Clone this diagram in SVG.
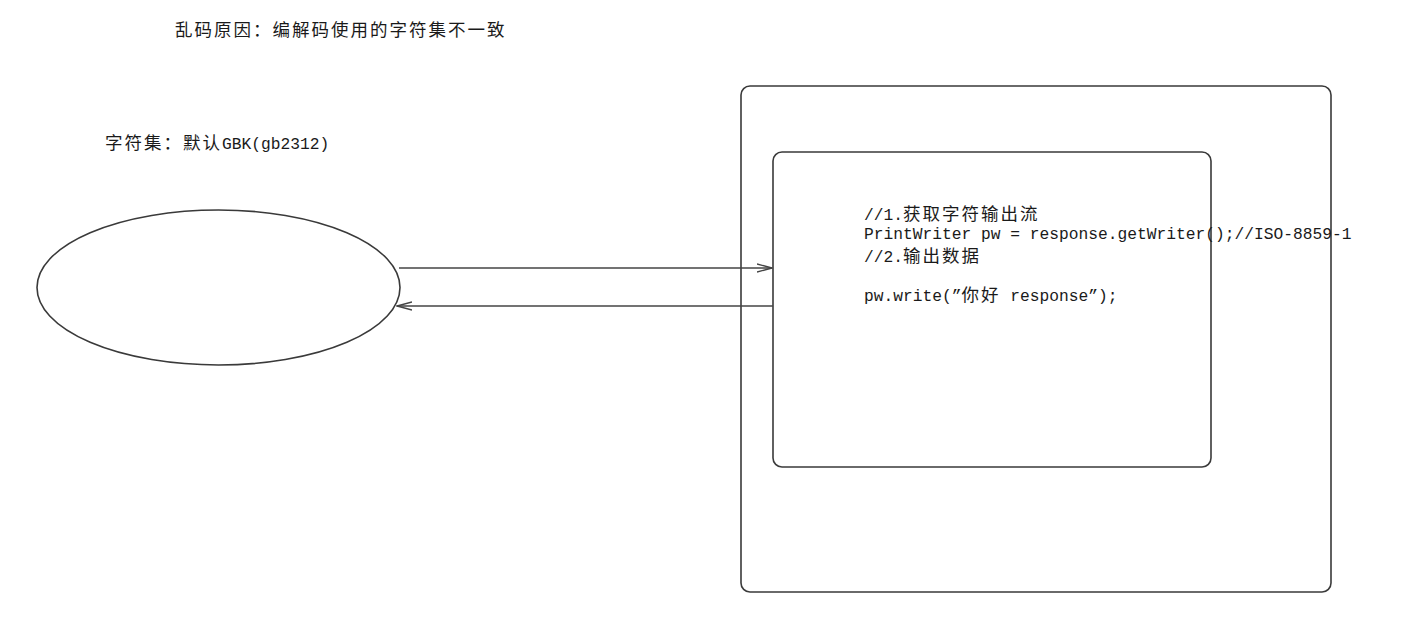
<svg xmlns="http://www.w3.org/2000/svg" width="1402" height="622" viewBox="0 0 1402 622">
<style>
.shape{fill:none;stroke:#3a3a3a;stroke-width:1.6}
.conn{fill:none;stroke:#444;stroke-width:1.6}
.cjk{font-family:"Noto Sans CJK SC","Liberation Mono",monospace;font-size:17.5px;letter-spacing:2px;fill:#1a1a1a}
.mono{font-family:"Liberation Mono","Noto Sans CJK SC",monospace;font-size:16.25px;fill:#1a1a1a}
</style>
<defs>
<marker id="arr" viewBox="0 0 16 10" refX="15" refY="5" markerWidth="16" markerHeight="10" markerUnits="userSpaceOnUse" orient="auto">
<path d="M0,1 L15,5 L0,9" fill="none" stroke="#444" stroke-width="1.4"/>
</marker>
</defs>
<rect width="1402" height="622" fill="#ffffff"/>
<g id="title">
<text class="cjk" x="175" y="36">乱码原因：编解码使用的字符集不一致</text>
</g>
<g id="charset-label">
<text x="105" y="149"><tspan class="cjk">字符集：默认</tspan><tspan class="mono">GBK(gb2312)</tspan></text>
</g>
<g id="browser">
<ellipse class="shape" cx="218.5" cy="287.5" rx="181.5" ry="77.5"/>
</g>
<g id="server">
<rect class="shape" x="741" y="86" width="590" height="506" rx="9"/>
</g>
<g id="servlet">
<rect class="shape" x="773" y="152" width="438" height="315" rx="9"/>
<text x="864" y="220"><tspan class="mono">//1.</tspan><tspan class="cjk">获取字符输出流</tspan></text>
<text class="mono" x="864" y="239">PrintWriter pw = response.getWriter();//ISO-8859-1</text>
<text x="864" y="262"><tspan class="mono">//2.</tspan><tspan class="cjk">输出数据</tspan></text>
<text x="864" y="301"><tspan class="mono">pw.write(”</tspan><tspan class="cjk">你好</tspan><tspan class="mono"> response”);</tspan></text>
</g>
<g id="connectors">
<line class="conn" x1="399" y1="268" x2="772" y2="268" marker-end="url(#arr)"/>
<line class="conn" x1="773" y1="306" x2="397" y2="306" marker-end="url(#arr)"/>
</g>
</svg>
